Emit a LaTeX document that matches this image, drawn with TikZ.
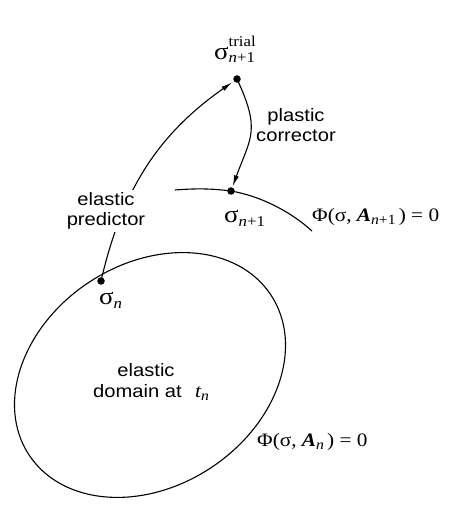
\documentclass[tikz,border=0pt]{standalone}
\usepackage{fontspec}
\setmainfont{Liberation Serif}
\newfontfamily\hv[FakeStretch=1.12]{Liberation Sans}
\newfontfamily\tm[FakeStretch=1.12]{Liberation Serif}
\usetikzlibrary{arrows.meta}
\newcommand\lbl{\hv\fontsize{18}{20}\selectfont}
\newcommand\sg{{\tm\fontsize{24}{24}\selectfont σ}}
\newcommand\fml{\tm\fontsize{19}{19}\selectfont}
\newcommand\scr[1]{\raisebox{-4pt}{\tm\fontsize{15}{15}\selectfont #1}}
\newcommand\fscr[1]{\raisebox{-3pt}{\tm\fontsize{14}{14}\selectfont #1}}
\begin{document}
\begin{tikzpicture}[x=1pt,y=1pt,
  dot/.style={circle,fill,inner sep=0pt,minimum size=7.5pt},
  txt/.style={inner sep=0pt},
  arr/.style={-{Latex[length=11pt,width=5pt]}, line width=1.1pt},
  curve/.style={line width=1.1pt}]
\useasboundingbox (0,0) rectangle (474,511);
% yield surface at t_n
\draw[curve, rotate around={33.6:(150,136)}] (150,136) ellipse[x radius=145, y radius=111];
% points
\coordinate (sn) at (101,230);
\coordinate (trial) at (237,432);
\coordinate (sn1) at (231,320);
% yield surface at t_{n+1}
\draw[curve] (175,321) .. controls (200,323) and (215,322) .. (sn1)
  .. controls (260,315) and (290,300) .. (312,280);
% elastic predictor
\draw[arr, shorten >=6pt] (sn) to[out=77,in=215] (trial);
\node[txt, fill=white, inner sep=3pt, align=center, font=\lbl] (ep) at (106,300) {elastic\\predictor};
% plastic corrector
\draw[arr, shorten >=5pt] (trial) to[out=-65,in=70,looseness=1.3] (sn1);
\node[txt, align=center, font=\lbl] (pc) at (296,386) {plastic\\corrector};
% dots
\node[dot] (dsn) at (sn) {};
\node[dot] (dtrial) at (trial) {};
\node[dot] (dsn1) at (sn1) {};
% point labels
\node[txt, anchor=base west] (lsn) at (99,206) {\sg\scr{\itshape n}};
\node[txt, anchor=base west] (lsn1) at (224,288) {\sg\scr{\itshape n\upshape +1}};
\node[txt, anchor=base west] (ltrial) at (214,451) {\sg\rlap{\raisebox{13pt}{\tm\fontsize{15}{15}\selectfont trial}}\raisebox{-3pt}{\tm\fontsize{15}{15}\selectfont\itshape n\upshape +1}};
% yield function labels
\node[txt, anchor=base west] (phi1) at (312,289) {\fml Φ(σ, \textbf{\textit{A}}\fscr{\itshape n\upshape +1}\,) = 0};
\node[txt, anchor=base west] (phi0) at (257,64) {\fml Φ(σ, \textbf{\textit{A}}\fscr{\itshape n}\,) = 0};
% domain label
\node[txt, anchor=base, font=\lbl] (dom1) at (146,134) {elastic};
\node[txt, anchor=base west, font=\lbl] (dom2) at (93,113) {domain at};
\node[txt, anchor=base west] (tn) at (195,113) {\fml\itshape t\fscr{\itshape n}};
\end{tikzpicture}
\end{document}
